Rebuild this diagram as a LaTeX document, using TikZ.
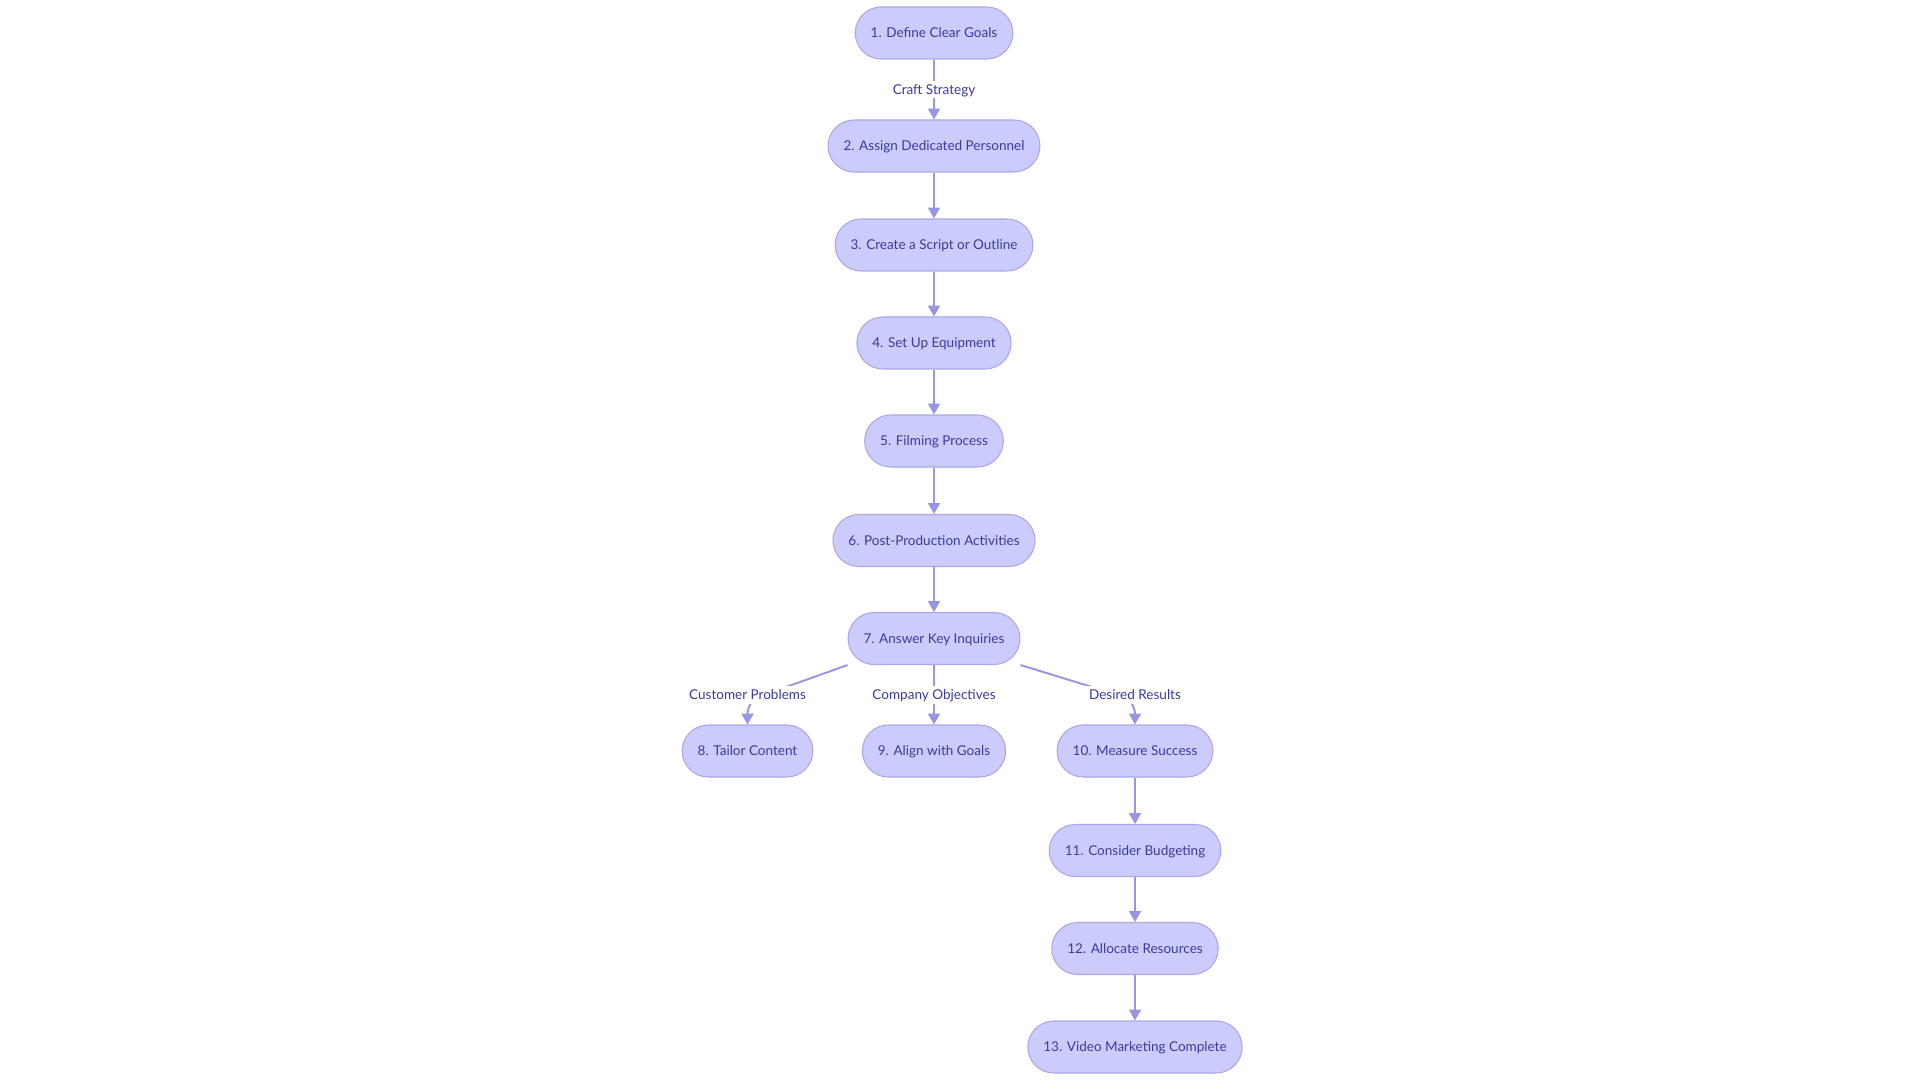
\documentclass[tikz,border=0pt]{standalone}
\usepackage{fontspec}
\setmainfont{Lato}
\usetikzlibrary{arrows.meta}
\definecolor{nodefill}{RGB}{204,204,252}
\definecolor{nodeline}{RGB}{168,168,232}
\definecolor{edgeline}{RGB}{150,150,228}
\definecolor{labeltext}{RGB}{58,58,158}

\begin{document}
\begin{tikzpicture}[->, >={Triangle[width=6.8pt,length=6.2pt]}, draw=edgeline, line width=1.1pt,
    stepnode/.style={rectangle, rounded corners=0.52cm, draw=nodeline, line width=0.6pt, fill=nodefill,
        text=labeltext, font=\fontsize{7.7}{10}\selectfont, minimum height=1.04cm, inner xsep=0.31cm,
        text height=6.4pt, text depth=0.8pt},
    edgelabel/.style={fill=white, text=labeltext, font=\fontsize{7.7}{10}\selectfont, inner sep=1.5pt,
        text height=6.4pt, text depth=0.8pt}]

        % Canvas
        \fill[white] (0,0) rectangle (38.4,-21.6);
        \useasboundingbox (0,0) rectangle (38.4,-21.6);

        % Main chain
        \node[stepnode] (S-1) at (18.68,-0.66) {1. Define Clear Goals};
        \node[stepnode] (S-2) at (18.68,-2.92) {2. Assign Dedicated Personnel};
        \node[stepnode] (S-3) at (18.68,-4.90) {3. Create a Script or Outline};
        \node[stepnode] (S-4) at (18.68,-6.86) {4. Set Up Equipment};
        \node[stepnode] (S-5) at (18.68,-8.82) {5. Filming Process};
        \node[stepnode] (S-6) at (18.68,-10.81) {6. Post-Production Activities};
        \node[stepnode] (S-7) at (18.68,-12.77) {7. Answer Key Inquiries};

        % Branches
        \node[stepnode] (S-8) at (14.95,-15.02) {8. Tailor Content};
        \node[stepnode] (S-9) at (18.68,-15.02) {9. Align with Goals};
        \node[stepnode] (S-10) at (22.70,-15.02) {10. Measure Success};

        % Final chain
        \node[stepnode] (S-11) at (22.70,-17.01) {11. Consider Budgeting};
        \node[stepnode] (S-12) at (22.70,-18.97) {12. Allocate Resources};
        \node[stepnode] (S-13) at (22.70,-20.94) {13. Video Marketing Complete};

        % Plain connectors
        \foreach \i/\j in {2/3,3/4,4/5,5/6,6/7,10/11,11/12,12/13}
            \draw (S-\i) -- (S-\j);

        % Labelled connectors
        \draw (S-1) -- node[edgelabel] (craftlabel) {Craft Strategy} (S-2);
        \draw (S-7) -- node[edgelabel] (companylabel) {Company Objectives} (S-9);
        \draw (S-7.south west) -- ([xshift=0.24cm,yshift=0.56cm]S-8.north) to[out=200,in=90] (S-8.north);
        \draw (S-7.south east) -- ([xshift=-0.24cm,yshift=0.56cm]S-10.north) to[out=-20,in=90] (S-10.north);

        % Labels on the side branches
        \node[edgelabel] (customerlabel) at (14.95,-13.90) {Customer Problems};
        \node[edgelabel] (resultslabel) at (22.70,-13.90) {Desired Results};

    \end{tikzpicture}
\end{document}
